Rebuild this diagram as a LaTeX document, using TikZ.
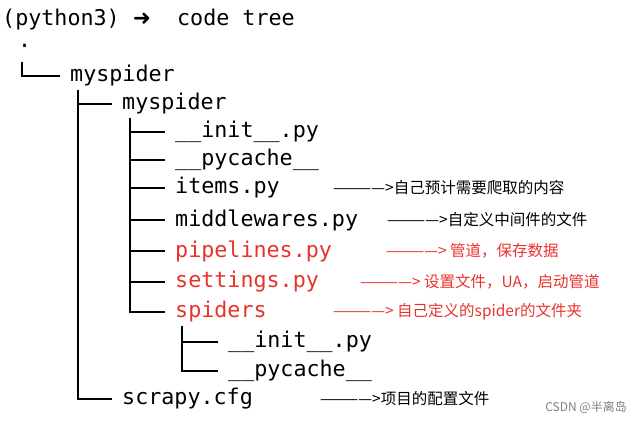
\documentclass[tikz,border=0pt]{standalone}
\usepackage{fontspec}
\setmonofont{DejaVu Sans Mono}
\newfontfamily\cjk{Noto Sans CJK SC}
\newfontfamily\sym{DejaVu Sans}
\definecolor{tred}{HTML}{E8332B}
\begin{document}
\begin{tikzpicture}[x=1pt,y=-1pt,
  t/.style={anchor=west,inner sep=0pt,font=\ttfamily\fontsize{21.7}{24}\selectfont},
  note/.style={anchor=west,inner sep=0pt,font=\cjk\fontsize{15.5}{17}\selectfont},
  br/.style={line width=1.6pt}]
\useasboundingbox (0,0) rectangle (641,422);
\node[t] (title) at (2,20) {(python3) {\sym\bfseries ➜}\ \ code tree};
\node[t] (dot) at (18,46) {.};
\node[t] (m1) at (70,76) {myspider};
\node[t] (m2) at (122,104) {myspider};
\node[t] (a) at (175,132) {\_\_init\_\_.py};
\node[t] (b) at (175,160) {\_\_pycache\_\_};
\node[t] (c) at (175,188) {items.py};
\node[t] (d) at (175,220) {middlewares.py};
\node[t,tred] (e) at (175,251) {pipelines.py};
\node[t,tred] (f) at (175,282) {settings.py};
\node[t,tred] (g) at (175,312) {spiders};
\node[t] (h) at (228,342) {\_\_init\_\_.py};
\node[t] (i) at (228,371) {\_\_pycache\_\_};
\node[t] (s) at (122,399) {scrapy.cfg};
% tree lines
\draw[br] (22,62) -- (22,76) -- (60,76);
\draw[br] (78,90) -- (78,399) -- (112,399);
\draw[br] (78,104) -- (112,104);
\draw[br] (130,118) -- (130,312) -- (165,312);
\foreach \y in {132,160,188,220,251,282} \draw[br] (130,\y) -- (165,\y);
\draw[br] (182,326) -- (182,371) -- (218,371);
\draw[br] (182,342) -- (218,342);
% notes
\node[note] (nc) at (333,188) {——{}——>自己预计需要爬取的内容};
\node[note] (nd) at (387,220) {——{}——>自定义中间件的文件};
\node[note,tred] (ne) at (386,251) {——{}——> 管道，保存数据};
\node[note,tred] (nf) at (360,282) {——{}——> 设置文件，UA，启动管道};
\node[note,tred] (ng) at (333,312) {——{}——> 自己定义的spider的文件夹};
\node[note] (ns) at (320,399) {——{}——>项目的配置文件};
\node[anchor=east,inner sep=0pt,text=gray,font=\cjk\fontsize{12}{14}\selectfont] (w) at (627,407) {CSDN @半离岛};
\end{tikzpicture}
\end{document}
